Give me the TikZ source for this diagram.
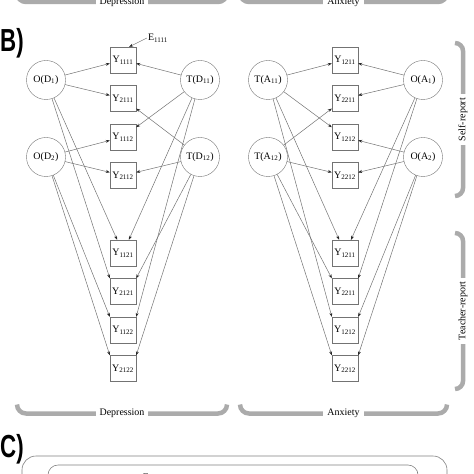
\documentclass[tikz,border=0pt]{standalone}
\usepackage{fontspec}
\setmainfont{Liberation Serif}
\setsansfont{Liberation Sans}
\usetikzlibrary{arrows.meta}
\newcommand{\ysub}[1]{Y\textsubscript{#1}}

\begin{document}
\begin{tikzpicture}[x=1bp,y=1bp,
  obs/.style={draw=black!55,rectangle,minimum size=26bp,inner sep=0pt,font=\fontsize{10}{12}\selectfont},
  lat/.style={draw=black!55,circle,minimum size=39bp,inner sep=0pt,font=\fontsize{10}{12}\selectfont},
  arr/.style={draw=black!55,line width=0.5bp,-{Stealth[length=4bp,width=3bp,black!85]}},
  brace/.style={draw=black!33,line width=4.5bp},
  bracelab/.style={fill=white,inner sep=4bp,font=\fontsize{10}{12}\selectfont},
  frame/.style={draw=black!50,line width=0.6bp},
  panel/.style={font=\sffamily\bfseries\fontsize{32}{32}\selectfont,xscale=0.7,transform shape,inner sep=0pt,anchor=base west},
  node distance=38.5bp]
\useasboundingbox (0,0) rectangle (474,-474);

% panel labels
\node[panel] (labb) at (0,-52) {B)};
\node[panel] (labc) at (0,-457) {C)};

% depression
\node[obs] (y1111) at (123,-60) {\ysub{1111}};
\node[obs] (y2111) [below of=y1111] {\ysub{2111}};
\node[obs] (y1112) [below of=y2111] {\ysub{1112}};
\node[obs] (y2112) [below of=y1112] {\ysub{2112}};
\node[obs] (y1121) at (123,-253) {\ysub{1121}};
\node[obs] (y2121) [below of=y1121] {\ysub{2121}};
\node[obs] (y1122) [below of=y2121] {\ysub{1122}};
\node[obs] (y2122) [below of=y1122] {\ysub{2122}};
\node[lat] (od1) at (46,-80) {O(D\textsubscript{1})};
\node[lat] (od2) at (46,-157) {O(D\textsubscript{2})};
\node[lat] (td11) at (200,-80) {T(D\textsubscript{11})};
\node[lat] (td12) at (200,-157) {T(D\textsubscript{12})};
\node[inner sep=1bp,font=\fontsize{10}{12}\selectfont] (e1111) at (158,-38) {E\textsubscript{1111}};

\draw[arr] (e1111.west) -- ([xshift=-7bp]y1111.north east);
\draw[arr] (od1) -- (y1111);
\draw[arr] (od1) -- (y2111);
\draw[arr] (od2) -- (y1112);
\draw[arr] (od2) -- (y2112);
\draw[arr] (td11) -- (y1111);
\draw[arr] (td11) -- (y1112);
\draw[arr] (td12) -- (y2111);
\draw[arr] (td12) -- (y2112);
\draw[arr] (od1) -- (y1121);
\draw[arr] (od1) -- (y2121.north west);
\draw[arr] (od2) -- (y1122.north west);
\draw[arr] (od2) -- (y2122.north west);
\draw[arr] (td11) -- (y1121);
\draw[arr] (td11) -- (y1122.north east);
\draw[arr] (td12) -- (y2121.north east);
\draw[arr] (td12) -- (y2122.north east);

% anxiety
\node[obs] (y1211) at (345,-60) {\ysub{1211}};
\node[obs] (y2211) [below of=y1211] {\ysub{2211}};
\node[obs] (y1212) [below of=y2211] {\ysub{1212}};
\node[obs] (y2212) [below of=y1212] {\ysub{2212}};
\node[obs] (y1221) at (345,-253) {\ysub{1211}};
\node[obs] (y2221) [below of=y1221] {\ysub{2211}};
\node[obs] (y1222) [below of=y2221] {\ysub{1212}};
\node[obs] (y2222) [below of=y1222] {\ysub{2212}};
\node[lat] (ta11) at (268,-80) {T(A\textsubscript{11})};
\node[lat] (ta12) at (268,-157) {T(A\textsubscript{12})};
\node[lat] (oa1) at (423,-80) {O(A\textsubscript{1})};
\node[lat] (oa2) at (423,-157) {O(A\textsubscript{2})};

\draw[arr] (ta11) -- (y1211);
\draw[arr] (ta11) -- (y1212);
\draw[arr] (ta12) -- (y2211);
\draw[arr] (ta12) -- (y2212);
\draw[arr] (oa1) -- (y1211);
\draw[arr] (oa1) -- (y2211);
\draw[arr] (oa2) -- (y1212);
\draw[arr] (oa2) -- (y2212);
\draw[arr] (ta11) -- (y1221);
\draw[arr] (ta11) -- (y1222.north west);
\draw[arr] (ta12) -- (y2221.north west);
\draw[arr] (ta12) -- (y2222.north west);
\draw[arr] (oa1) -- (y1221);
\draw[arr] (oa1) -- (y2221.north east);
\draw[arr] (oa2) -- (y1222.north east);
\draw[arr] (oa2) -- (y2222.north east);

% braces
\foreach \yb in {-2,-413.5}{
  \foreach \xa/\xb/\lab in {17/227/Depression,240/447/Anxiety}{
    \draw[brace] (\xa,\yb+9) to[out=-90,in=180] (\xa+9,\yb) -- (\xb-9,\yb) to[out=0,in=-90] (\xb,\yb+9);
    \node[bracelab] at ({(\xa+\xb)/2},\yb) {\lab};
  }
}
\foreach \ya/\yb/\lab in {-43/-196/Self-report,-233/-389/Teacher-report}{
  \draw[brace] (455,\ya) to[out=0,in=90] (463,\ya-8) -- (463,\yb+8) to[out=-90,in=0] (455,\yb);
  \node[bracelab,rotate=90] at (463,{(\ya+\yb)/2}) {\lab};
}

% panel C
\draw[frame,rounded corners=14bp] (22,-530) rectangle (447,-456);
\draw[frame,rounded corners=10bp] (48,-530) rectangle (418,-465);
\node[font=\fontsize{10}{12}\selectfont] (ec) at (146,-477) {E};
\end{tikzpicture}
\end{document}
